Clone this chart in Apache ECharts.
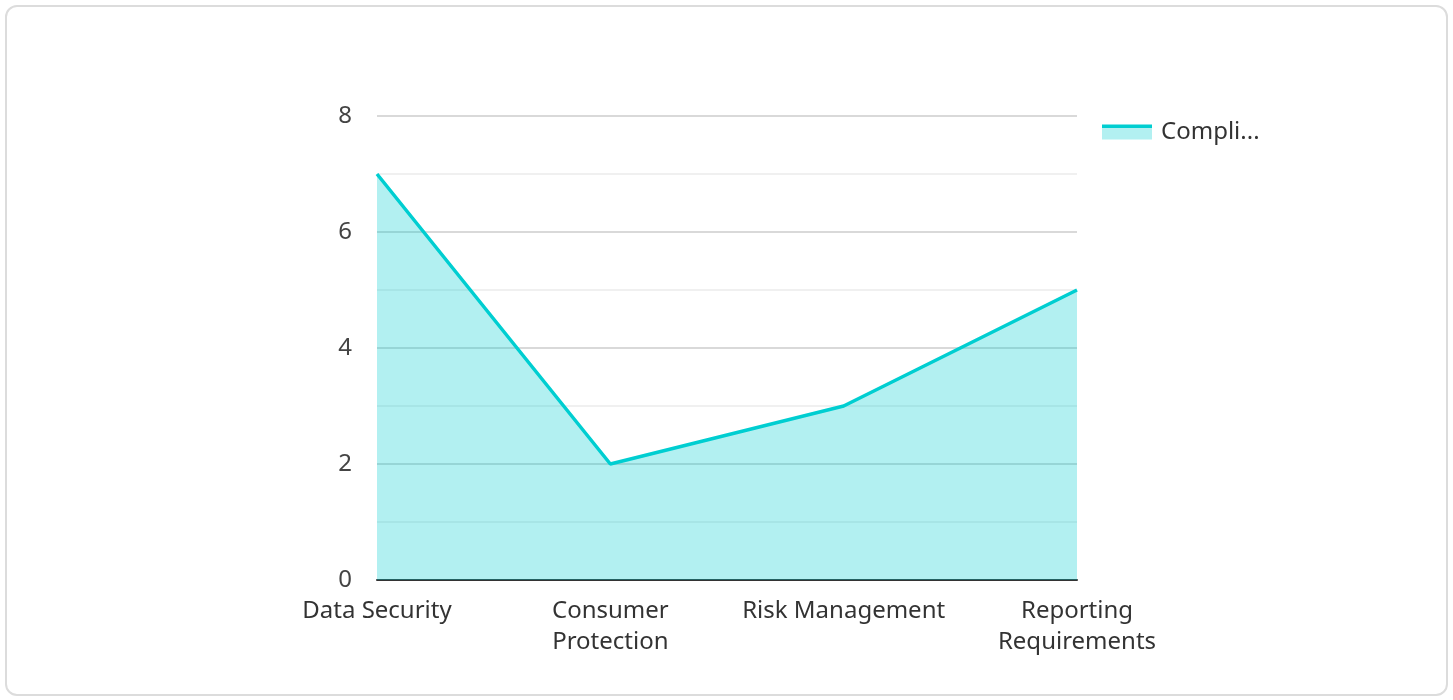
<!DOCTYPE html>
<html>
<head>
<meta charset="utf-8">
<script src="https://cdn.jsdelivr.net/npm/echarts@6/dist/echarts.min.js"></script>
<style>
html,body{margin:0;padding:0;background:#fff;width:1453px;height:700px;overflow:hidden;}
#card{position:absolute;left:5px;top:5px;width:1439px;height:687px;border:2px solid #dcdcdc;border-radius:12px;box-sizing:content-box;}
#chart{position:absolute;left:0;top:0;width:1453px;height:700px;}
</style>
</head>
<body>
<div id="card"></div>
<div id="chart"></div>
<script>
const categories = ['Data Security', 'Consumer\nProtection', 'Risk Management', 'Reporting\nRequirements'];
const seriesName = 'Compliance Issues';
const values = [7, 2, 3, 5];
const yTicks = { min: 0, max: 8, interval: 2 };

const chart = echarts.init(document.getElementById('chart'), null, { renderer: 'canvas' });
const font = '"Noto Sans", "Open Sans", sans-serif';
chart.setOption({
  animation: false,
  grid: { left: 377, right: 376, top: 116, bottom: 120, containLabel: false },
  legend: {
    left: 1102, top: 120, padding: 0,
    itemWidth: 50, itemHeight: 15, itemGap: 10,
    icon: 'rect',
    itemStyle: {
      color: new echarts.graphic.LinearGradient(0, 0, 0, 1, [
        { offset: 0, color: '#00CED1' }, { offset: 0.22, color: '#00CED1' },
        { offset: 0.22, color: '#b2f0f1' }, { offset: 1, color: '#b2f0f1' }
      ]),
      borderWidth: 0
    },
    textStyle: { fontFamily: font, fontSize: 24, color: '#333', width: 100, overflow: 'truncate', padding: [0, 0, 0, 4] },
    data: [seriesName]
  },
  xAxis: {
    type: 'category',
    data: categories,
    boundaryGap: false,
    axisLine: { lineStyle: { color: '#333', width: 2 } },
    axisTick: { show: false },
    axisLabel: { interval: 0, margin: 16, fontFamily: font, fontSize: 24, color: '#333', lineHeight: 31, align: 'center' },
    splitLine: { show: false }
  },
  yAxis: {
    type: 'value',
    min: yTicks.min, max: yTicks.max, interval: yTicks.interval,
    axisLine: { show: false },
    axisTick: { show: false },
    axisLabel: { margin: 25, fontFamily: font, fontSize: 24, color: '#444', padding: [2, 0, 0, 0] },
    splitLine: { lineStyle: { color: '#cccccc', width: 1.5 } },
    minorTick: { show: false, splitNumber: 2 },
    minorSplitLine: { show: true, lineStyle: { color: '#ebebeb', width: 1.5 } }
  },
  series: [{
    name: seriesName,
    type: 'line',
    data: values,
    symbol: 'none',
    lineStyle: { color: '#00CED1', width: 3.5 },
    itemStyle: { color: '#00CED1' },
    areaStyle: { color: '#00CED1', opacity: 0.3 }
  }]
});
</script>
</body>
</html>
